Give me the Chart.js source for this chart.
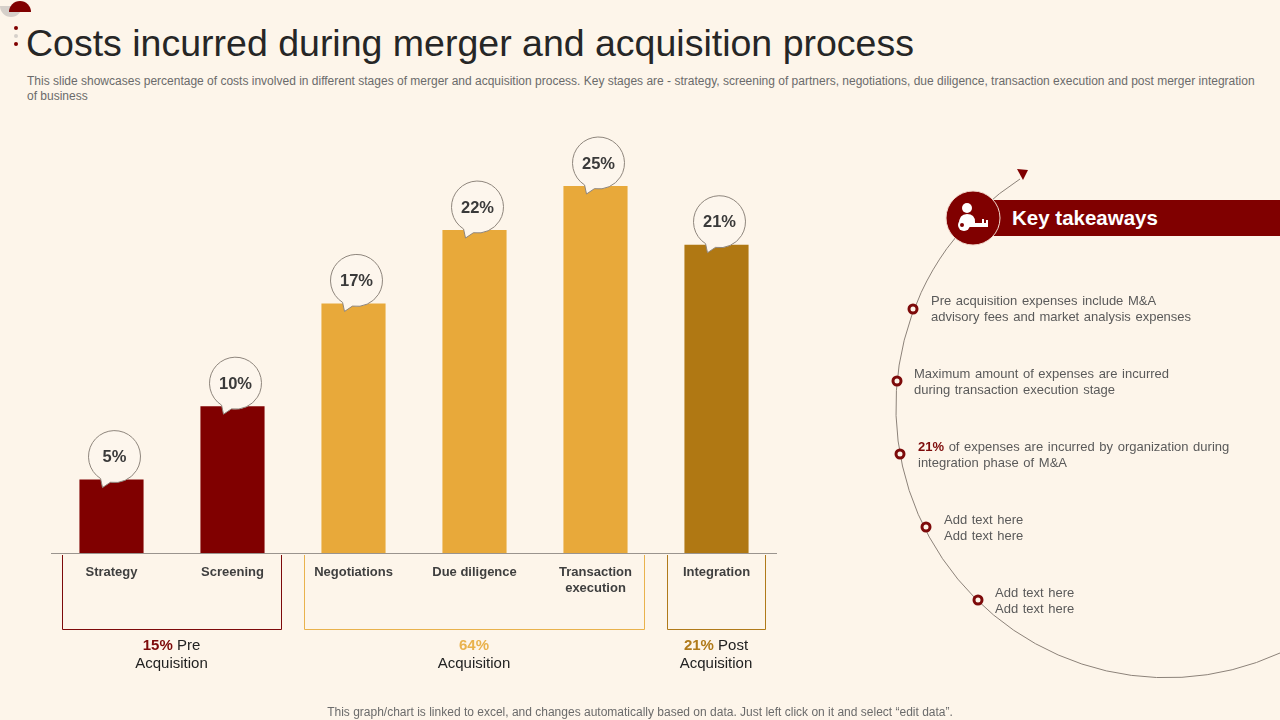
<!DOCTYPE html>
<html>
<head>
<meta charset="utf-8">
<script src="https://cdn.jsdelivr.net/npm/chart.js@4.4.1/dist/chart.umd.min.js"></script>
<style>
  html, body { margin: 0; padding: 0; }
  body {
    width: 1280px; height: 720px; position: relative; overflow: hidden;
    background: #fdf5ea; font-family: Arial, "Liberation Sans", sans-serif;
  }
  .abs { position: absolute; white-space: nowrap; }
  #title { left: 26px; top: 25px; font-size: 37.5px; line-height: 1; color: #262626; }
  #subtitle { left: 27px; top: 74px; font-size: 12px; line-height: 15px; color: #6b6b6b; }
  #footer { left: 0; width: 1280px; text-align: center; top: 705px; font-size: 12px; line-height: 15px; color: #6b6b6b; }
  #chartBox { position: absolute; left: 0; top: 0; width: 800px; height: 720px; }
  .tk { font-size: 13px; line-height: 16px; color: #5a5a5a; word-spacing: 1px; }
  .tk b { color: #7d0a0a; }
  #keyHead { left: 1012px; top: 205px; font-size: 20.5px; font-weight: bold; color: #fff; line-height: 26px; }
</style>
</head>
<body>

<!-- top-left decoration -->
<svg class="abs" style="left:0;top:0" width="40" height="50">
  <path d="M0 6 A 11 11 0 0 0 22 6 Z" fill="#d6d0ca"/>
  <path d="M9 12 A 11 11 0 0 1 31 12 Z" fill="#800000"/>
  <circle cx="16" cy="28" r="2" fill="#800000"/>
  <circle cx="16" cy="36" r="2" fill="#d6d0ca"/>
  <circle cx="16" cy="44" r="2" fill="#800000"/>
</svg>

<div id="title" class="abs">Costs incurred during merger and acquisition process</div>
<div id="subtitle" class="abs">This slide showcases percentage of costs involved in different stages of merger and acquisition process. Key stages are - strategy,  screening of partners, negotiations, due diligence, transaction execution and post merger integration<br>of business</div>

<div id="chartBox"><canvas id="costChart"></canvas></div>

<!-- key takeaways panel -->
<svg class="abs" style="left:0;top:0" width="1280" height="720">
  <path d="M 1280 653 A 271 271 0 0 1 1020 179" fill="none" stroke="#8c8279" stroke-width="1"/>
  <polygon points="1017,169 1028,170 1023,180" fill="#800000"/>
  <rect x="990" y="200" width="290" height="36" fill="#800000"/>
  <circle cx="973" cy="218" r="27" fill="#800000" stroke="#f0d8cc" stroke-width="1"/>
  <g fill="#fff">
    <circle cx="967" cy="208" r="5"/>
    <path d="M959 224 Q959 214 967 214 Q975 214 975 222 L975 224 Z"/>
    <circle cx="964" cy="225" r="6"/>
    <rect x="968" y="223" width="20" height="4"/>
    <rect x="982" y="219" width="2" height="4"/>
    <rect x="986" y="220" width="2" height="3"/>
  </g>
  <circle cx="962" cy="225" r="2" fill="#800000"/>
  <g fill="#fdf5ea" stroke="#7d0a0a" stroke-width="3">
    <circle cx="913" cy="309" r="4"/>
    <circle cx="897" cy="381" r="4"/>
    <circle cx="900" cy="454" r="4"/>
    <circle cx="926" cy="527" r="4"/>
    <circle cx="978" cy="600" r="4"/>
  </g>
</svg>
<div id="keyHead" class="abs">Key takeaways</div>
<div class="abs tk" style="left:931px;top:293px">Pre acquisition expenses include M&amp;A<br>advisory fees and market analysis expenses</div>
<div class="abs tk" style="left:914px;top:366px">Maximum amount of expenses are incurred<br>during transaction execution stage</div>
<div class="abs tk" style="left:918px;top:439px"><b>21%</b> of expenses are incurred by organization during<br>integration phase of M&amp;A</div>
<div class="abs tk" style="left:944px;top:512px">Add text here<br>Add text here</div>
<div class="abs tk" style="left:995px;top:585px">Add text here<br>Add text here</div>

<div id="footer" class="abs">This graph/chart is linked to excel, and changes automatically based on data. Just left click on it and select “edit data”.</div>

<script>
// data
const stages = ['Strategy', 'Screening', 'Negotiations', 'Due diligence', ['Transaction', 'execution'], 'Integration'];
const costShare = [5, 10, 17, 22, 25, 21];
const groupNames = ['Pre', 'Acquisition', 'Post'];
const groupShares = [15, 64, 21];
const groupFirst = [0, 2, 5];
const groupLast = [1, 4, 5];

// styles
const darkRed = '#800000';
const gold = '#e8a93a';
const darkGold = '#b07813';
const barColors = [darkRed, darkRed, gold, gold, gold, darkGold];
const groupColors = ['#7d0a0a', '#e9b24c', '#b07a1a'];
const FONT = 'Arial, "Liberation Sans", sans-serif';

const decorPlugin = {
    id: 'decor',
    afterDatasetsDraw(chart) {
        const ctx = chart.ctx;
        const area = chart.chartArea;
        const xs = chart.scales.x;
        const half = (area.right - area.left) / stages.length / 2;

        // baseline
        ctx.save();
        ctx.strokeStyle = '#9a948e';
        ctx.lineWidth = 1;
        ctx.beginPath();
        ctx.moveTo(area.left, area.bottom + 0.5);
        ctx.lineTo(area.right, area.bottom + 0.5);
        ctx.stroke();

        // category labels
        ctx.fillStyle = '#3f3f3f';
        ctx.font = 'bold 13px ' + FONT;
        ctx.textAlign = 'center';
        ctx.textBaseline = 'middle';
        stages.forEach((s, i) => {
            const x = xs.getPixelForValue(i);
            const lines = Array.isArray(s) ? s : [s];
            lines.forEach((ln, k) => ctx.fillText(ln, x, area.bottom + 19 + k * 16));
        });

        // group brackets + group labels
        groupNames.forEach((name, g) => {
            const left = xs.getPixelForValue(groupFirst[g]) - half + 11;
            const right = xs.getPixelForValue(groupLast[g]) + half - 12;
            const top = area.bottom + 2;
            const bot = area.bottom + 76;
            ctx.strokeStyle = groupColors[g];
            ctx.lineWidth = 1;
            ctx.beginPath();
            ctx.moveTo(left + 0.5, top);
            ctx.lineTo(left + 0.5, bot + 0.5);
            ctx.lineTo(right + 0.5, bot + 0.5);
            ctx.lineTo(right + 0.5, top);
            ctx.stroke();

            const cx = (left + right) / 2;
            const pct = groupShares[g] + '%';
            const rest = g === 1 ? '' : ' ' + name;
            ctx.font = 'bold 15px ' + FONT;
            const w1 = ctx.measureText(pct).width;
            ctx.font = '15px ' + FONT;
            const w2 = ctx.measureText(rest).width;
            let x0 = cx - (w1 + w2) / 2;
            ctx.textAlign = 'left';
            ctx.font = 'bold 15px ' + FONT;
            ctx.fillStyle = groupColors[g];
            ctx.fillText(pct, x0, bot + 17);
            ctx.font = '15px ' + FONT;
            ctx.fillStyle = '#222';
            ctx.fillText(rest, x0 + w1, bot + 17);
            ctx.textAlign = 'center';
            ctx.fillText('Acquisition', cx, bot + 35);
        });

        // speech bubbles
        const meta = chart.getDatasetMeta(0);
        meta.data.forEach((bar, i) => {
            const r = 26;
            const cx = bar.x + 3;
            const cy = bar.y - 23;
            const a1 = Math.PI * 0.55;
            const a2 = Math.PI * 0.68;
            ctx.beginPath();
            ctx.arc(cx, cy, r, a2, a1 + Math.PI * 2);
            ctx.lineTo(cx - 12, bar.y + 8);
            ctx.closePath();
            ctx.fillStyle = '#fdf6ed';
            ctx.fill();
            ctx.strokeStyle = '#8e857c';
            ctx.lineWidth = 1;
            ctx.stroke();
            ctx.fillStyle = '#3a3a3a';
            ctx.font = 'bold 16.5px ' + FONT;
            ctx.textAlign = 'center';
            ctx.textBaseline = 'middle';
            ctx.fillText(costShare[i] + '%', cx, cy + 1);
        });
        ctx.restore();
    }
};

new Chart(document.getElementById('costChart'), {
    type: 'bar',
    data: {
        labels: stages,
        datasets: [{
            data: costShare,
            backgroundColor: barColors,
            borderWidth: 0,
            barPercentage: 0.53,
            categoryPercentage: 1
        }]
    },
    options: {
        responsive: true,
        maintainAspectRatio: false,
        animation: false,
        layout: { padding: { left: 51, right: 23, top: 112.6, bottom: 167 } },
        plugins: { legend: { display: false }, tooltip: { enabled: false } },
        scales: {
            x: { display: false },
            y: { display: false, min: 0, max: 30 }
        }
    },
    plugins: [decorPlugin]
});
</script>
</body>
</html>
